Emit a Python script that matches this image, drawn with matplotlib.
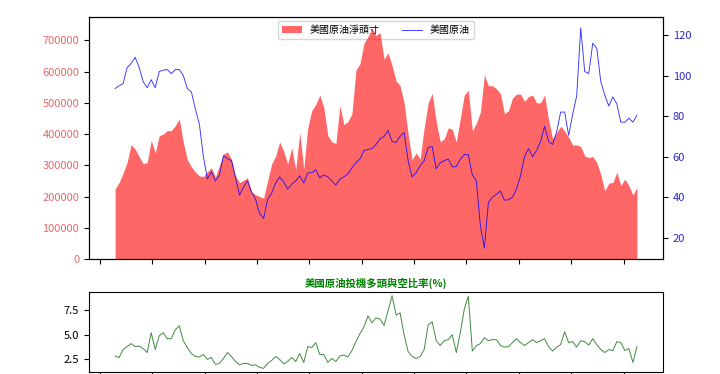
import numpy as np
import pandas as pd
import matplotlib
matplotlib.use('Agg')
import matplotlib.pyplot as plt
import matplotlib.dates as mdates

plt.rcParams['font.family'] = ['Noto Sans CJK TC', 'DejaVu Sans']
plt.rcParams['axes.unicode_minus'] = False

# every 4 weeks
dates = pd.date_range('2013-04-16', periods=131, freq='28D')

net_position = [
    223600, 245000, 275000, 310000, 366000, 352000, 328000, 305000, 309000, 380000,
    340000, 395000, 400000, 411000, 411000, 427000, 448000, 373000, 318000, 295000,
    279000, 266000, 264000, 280000, 292000, 262000, 300000, 336000, 343000, 320000,
    266000, 245000, 252000, 260000, 215000, 206000, 200000, 195000, 250000, 304000,
    330000, 375000, 345000, 305000, 357000, 285000, 405000, 288000, 420000, 475000,
    495000, 525000, 485000, 395000, 375000, 370000, 491000, 430000, 440000, 465000,
    605000, 625000, 690000, 712000, 738000, 716000, 725000, 640000, 660000, 620000,
    570000, 555000, 500000, 400000, 318000, 340000, 320000, 420000, 500000, 530000,
    440000, 375000, 385000, 420000, 415000, 375000, 450000, 525000, 540000, 410000,
    435000, 470000, 590000, 555000, 555000, 545000, 530000, 465000, 475000, 515000,
    528000, 528000, 505000, 520000, 525000, 500000, 500000, 525000, 445000, 385000,
    405000, 425000, 410000, 390000, 365000, 365000, 360000, 330000, 325000, 328000,
    309000, 270000, 218000, 243000, 245000, 278000, 235000, 256000, 235000, 205000,
    229000,
]

oil_price = [
    93.6, 95.0, 96.0, 104.0, 106.0, 109.0, 104.0, 97.0, 94.0, 98.0,
    94.0, 102.0, 102.7, 103.0, 101.0, 103.0, 103.0, 100.0, 93.6, 92.0,
    83.5, 76.0, 60.0, 49.0, 52.5, 48.0, 51.0, 60.5, 59.0, 58.0,
    49.5, 41.0, 45.0, 48.0, 42.5, 39.0, 32.0, 29.5, 39.0, 42.0,
    47.0, 50.0, 47.5, 44.0, 46.4, 48.0, 50.5, 47.0, 52.0, 52.0,
    53.5, 49.5, 51.0, 50.0, 48.0, 46.0, 48.9, 50.0, 51.5, 54.5,
    57.0, 58.8, 63.0, 63.5, 64.0, 66.0, 68.8, 70.0, 72.9, 67.5,
    67.0, 70.0, 72.0, 58.0, 50.0, 52.0, 55.5, 58.0, 64.5, 65.0,
    54.0, 57.0, 58.0, 58.8, 55.0, 55.0, 58.8, 61.0, 61.0, 51.0,
    48.0, 26.0, 14.9, 37.3, 40.0, 41.4, 43.0, 38.5, 38.7, 40.0,
    44.0, 50.5, 60.0, 64.0, 60.0, 63.0, 67.5, 75.0, 67.5, 66.0,
    72.0, 82.0, 82.0, 70.5, 81.0, 90.0, 123.5, 102.0, 101.0, 116.0,
    113.5, 97.0, 90.3, 85.0, 89.5, 86.0, 77.0, 77.0, 79.0, 77.0,
    80.5,
]

long_short_ratio = [
    2.84, 2.7, 3.5, 3.8, 4.1, 3.8, 3.85, 3.6, 3.2, 5.2,
    3.5, 4.9, 5.2, 4.6, 4.6, 5.5, 5.9, 4.4, 3.7, 3.1,
    2.8, 2.75, 3.0, 2.5, 2.7, 2.0, 2.1, 2.6, 3.2, 2.8,
    2.3, 1.95, 2.1, 2.1, 1.9, 1.95, 1.7, 1.6, 2.1, 2.4,
    2.8, 2.5, 2.05, 2.3, 2.7, 2.3, 3.1, 2.2, 3.8, 3.7,
    4.2, 3.0, 3.0, 2.2, 2.6, 2.3, 2.85, 2.95, 2.75, 3.4,
    4.3, 5.1, 5.8, 6.9, 6.2, 6.7, 6.58, 5.95, 7.4, 8.95,
    7.0, 7.2, 5.0, 3.3, 2.8, 2.6, 2.8, 3.5, 6.0, 6.3,
    4.4, 3.9, 4.4, 4.5, 5.0, 3.2, 5.2, 7.6, 8.9, 3.35,
    3.9, 4.1, 4.7, 4.4, 4.5, 4.5, 3.9, 3.75, 3.8, 4.2,
    4.6, 4.2, 3.9, 4.2, 4.5, 4.2, 4.4, 4.6, 3.8, 3.35,
    3.75, 4.0, 5.3, 4.2, 4.3, 3.75, 4.4, 4.3, 3.95, 4.6,
    4.0, 3.5, 3.2, 3.5, 3.4, 4.3, 4.2, 3.4, 3.6, 2.2,
    3.8,
]

fig = plt.figure(figsize=(7.2, 3.74), dpi=100)

ax1 = fig.add_axes([89 / 720, 1 - 259 / 374, 574 / 720, 242 / 374])
ax1.fill_between(dates, net_position, color='red', alpha=0.6, linewidth=0,
                 label='美國原油淨頭寸', zorder=2)
ax1.set_ylim(bottom=0)
ax1.set_yticks(np.arange(0, 800000, 100000))
ax1.tick_params(axis='y', labelcolor='#e86a6a', labelsize=8)
ax1.tick_params(axis='x', labelbottom=False)

ax2 = ax1.twinx()
ax2.plot(dates, oil_price, color='blue', linewidth=0.65, alpha=0.8, label='美國原油')
ax2.tick_params(axis='y', labelcolor='#2a2ad0', labelsize=8)

ax1.xaxis.set_major_locator(mdates.YearLocator())

h1, l1 = ax1.get_legend_handles_labels()
h2, l2 = ax2.get_legend_handles_labels()
leg = ax1.legend(h1 + h2, l1 + l2, loc='upper center', ncol=2, fontsize=7.2,
                 borderaxespad=0.4, columnspacing=2.2)
leg.set_zorder(1.5)

ax3 = fig.add_axes([89 / 720, 1 - 372 / 374, 574 / 720, 80 / 374], sharex=ax1)
ax3.plot(dates, long_short_ratio, color='darkgreen', linewidth=0.7, alpha=0.75)
ax3.set_yticks([2.5, 5.0, 7.5])
ax3.tick_params(axis='y', labelsize=8)
ax3.tick_params(axis='x', labelbottom=False)
ax3.set_title('美國原油投機多頭與空比率(%)', color='green', fontsize=7.5,
              fontweight='bold', pad=4)

fig.savefig('out.png', dpi=100)
